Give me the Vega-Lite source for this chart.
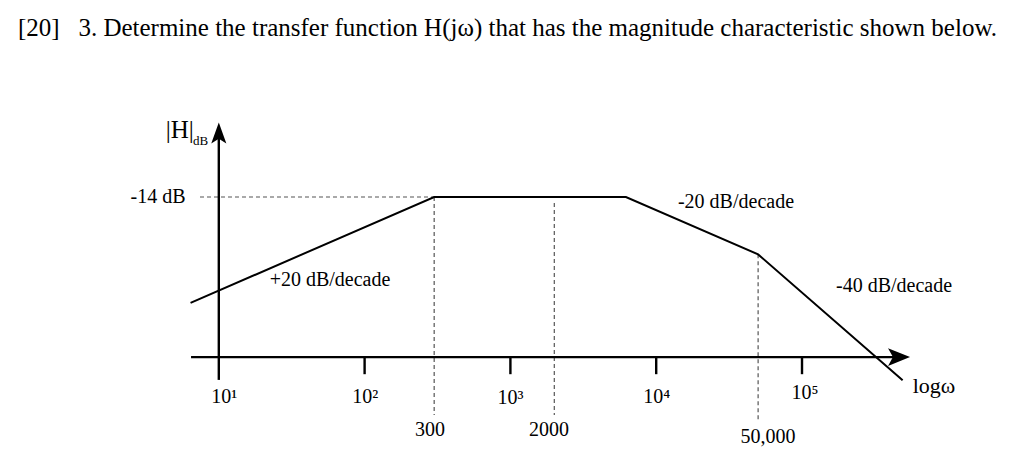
{
  "$schema": "https://vega.github.io/schema/vega-lite/v6.json",
  "width": 1024,
  "height": 407,
  "autosize": {"type": "none"},
  "padding": {"left": 0, "top": 50, "right": 0, "bottom": 0},
  "background": "white",
  "config": {"view": {"stroke": null}, "font": "Liberation Serif"},
  "title": {
    "text": "[20]\u00a0\u00a0\u00a03. Determine the transfer function H(jω) that has the magnitude characteristic shown below.",
    "anchor": "start",
    "frame": "group",
    "dx": 18,
    "offset": 9,
    "font": "Liberation Serif",
    "fontSize": 25,
    "fontWeight": "normal",
    "color": "black"
  },
  "datasets": {
    "guides": [
      {"w": 7.43, "w2": 300, "db": -14, "db2": -14},
      {"w": 300, "w2": 300, "db": -14, "db2": -82.8},
      {"w": 2000, "w2": 2000, "db": -15.9, "db2": -82.8},
      {"w": 50000, "w2": 50000, "db": -32.1, "db2": -85.0}
    ],
    "axes": [
      {"w": 6.45, "w2": 434500, "db": -64.5, "db2": -64.5},
      {"w": 10, "w2": 10, "db": 5.6, "db2": -71.7},
      {"w": 100, "w2": 100, "db": -64.5, "db2": -69.9},
      {"w": 1000, "w2": 1000, "db": -64.5, "db2": -69.9},
      {"w": 10000, "w2": 10000, "db": -64.5, "db2": -69.9},
      {"w": 100000, "w2": 100000, "db": -64.5, "db2": -69.9}
    ],
    "curve": [
      {"w": 6.4, "db": -47.4},
      {"w": 300, "db": -14},
      {"w": 6200, "db": -14},
      {"w": 50000, "db": -32.1},
      {"w": 490000, "db": -71.8}
    ],
    "arrows": [
      {"w": 462800, "db": -64.5, "dir": "right"},
      {"w": 10, "db": 6.2, "dir": "up"}
    ],
    "labels": [
      {"w": 3.83, "db": -14, "text": "-14 dB"},
      {"w": 10.9, "db": -77.1, "text": "10¹"},
      {"w": 101, "db": -77.1, "text": "10²"},
      {"w": 1000, "db": -77.4, "text": "10³"},
      {"w": 10100, "db": -77.1, "text": "10⁴"},
      {"w": 105000, "db": -75.8, "text": "10⁵"},
      {"w": 281, "db": -87.5, "text": "300"},
      {"w": 1841, "db": -87.5, "text": "2000"},
      {"w": 58480, "db": -89.7, "text": "50,000"},
      {"w": 57.9, "db": -40.2, "text": "+20 dB/decade"},
      {"w": 35250, "db": -15.6, "text": "-20 dB/decade"},
      {"w": 427600, "db": -42.2, "text": "-40 dB/decade"}
    ],
    "bigLabels": [
      {"w": 5.4, "db": 7.1, "text": "|H|"}
    ],
    "subLabels": [
      {"w": 7.5, "db": 3.7, "text": "dB"}
    ],
    "axisName": [
      {"w": 804000, "db": -73.6, "text": "logω"}
    ]
  },
  "layer": [
    {
      "data": {"name": "guides"},
      "mark": {"type": "rule", "strokeDash": [4, 3], "color": "#555555", "strokeWidth": 1.2},
      "encoding": {
        "x": {"field": "w", "type": "quantitative", "scale": {"type": "log", "domain": [0.3157, 3331000], "nice": false}, "axis": null},
        "x2": {"field": "w2"},
        "y": {"field": "db", "type": "quantitative", "scale": {"domain": [-96.02, 32.37], "nice": false, "zero": false}, "axis": null},
        "y2": {"field": "db2"}
      }
    },
    {
      "data": {"name": "axes"},
      "mark": {"type": "rule", "color": "black", "strokeWidth": 2.4},
      "encoding": {
        "x": {"field": "w", "type": "quantitative", "scale": {"type": "log", "domain": [0.3157, 3331000], "nice": false}, "axis": null},
        "x2": {"field": "w2"},
        "y": {"field": "db", "type": "quantitative", "scale": {"domain": [-96.02, 32.37], "nice": false, "zero": false}, "axis": null},
        "y2": {"field": "db2"}
      }
    },
    {
      "data": {"name": "curve"},
      "mark": {"type": "line", "color": "black", "strokeWidth": 2},
      "encoding": {
        "x": {"field": "w", "type": "quantitative", "scale": {"type": "log", "domain": [0.3157, 3331000], "nice": false}, "axis": null},
        "y": {"field": "db", "type": "quantitative", "scale": {"domain": [-96.02, 32.37], "nice": false, "zero": false}, "axis": null}
      }
    },
    {
      "data": {"name": "arrows"},
      "transform": [{"filter": "datum.dir === 'right'"}],
      "mark": {"type": "point", "filled": true, "color": "black", "opacity": 1, "size": 484, "shape": "M1,0L-1,0.8L-0.55,0L-1,-0.8Z"},
      "encoding": {
        "x": {"field": "w", "type": "quantitative", "scale": {"type": "log", "domain": [0.3157, 3331000], "nice": false}, "axis": null},
        "y": {"field": "db", "type": "quantitative", "scale": {"domain": [-96.02, 32.37], "nice": false, "zero": false}, "axis": null}
      }
    },
    {
      "data": {"name": "arrows"},
      "transform": [{"filter": "datum.dir === 'up'"}],
      "mark": {"type": "point", "filled": true, "color": "black", "opacity": 1, "size": 441, "shape": "M0,-1L0.72,1L0,0.55L-0.72,1Z"},
      "encoding": {
        "x": {"field": "w", "type": "quantitative", "scale": {"type": "log", "domain": [0.3157, 3331000], "nice": false}, "axis": null},
        "y": {"field": "db", "type": "quantitative", "scale": {"domain": [-96.02, 32.37], "nice": false, "zero": false}, "axis": null}
      }
    },
    {
      "data": {"name": "labels"},
      "mark": {"type": "text", "font": "Liberation Serif", "fontSize": 20, "color": "black", "align": "center", "baseline": "middle"},
      "encoding": {
        "x": {"field": "w", "type": "quantitative", "scale": {"type": "log", "domain": [0.3157, 3331000], "nice": false}, "axis": null},
        "y": {"field": "db", "type": "quantitative", "scale": {"domain": [-96.02, 32.37], "nice": false, "zero": false}, "axis": null},
        "text": {"field": "text"}
      }
    },
    {
      "data": {"name": "bigLabels"},
      "mark": {"type": "text", "font": "Liberation Serif", "fontSize": 25, "color": "black", "align": "center", "baseline": "middle"},
      "encoding": {
        "x": {"field": "w", "type": "quantitative", "scale": {"type": "log", "domain": [0.3157, 3331000], "nice": false}, "axis": null},
        "y": {"field": "db", "type": "quantitative", "scale": {"domain": [-96.02, 32.37], "nice": false, "zero": false}, "axis": null},
        "text": {"field": "text"}
      }
    },
    {
      "data": {"name": "subLabels"},
      "mark": {"type": "text", "font": "Liberation Serif", "fontSize": 13, "color": "black", "align": "center", "baseline": "middle"},
      "encoding": {
        "x": {"field": "w", "type": "quantitative", "scale": {"type": "log", "domain": [0.3157, 3331000], "nice": false}, "axis": null},
        "y": {"field": "db", "type": "quantitative", "scale": {"domain": [-96.02, 32.37], "nice": false, "zero": false}, "axis": null},
        "text": {"field": "text"}
      }
    },
    {
      "data": {"name": "axisName"},
      "mark": {"type": "text", "font": "Liberation Serif", "fontSize": 22, "color": "black", "align": "center", "baseline": "middle"},
      "encoding": {
        "x": {"field": "w", "type": "quantitative", "scale": {"type": "log", "domain": [0.3157, 3331000], "nice": false}, "axis": null},
        "y": {"field": "db", "type": "quantitative", "scale": {"domain": [-96.02, 32.37], "nice": false, "zero": false}, "axis": null},
        "text": {"field": "text"}
      }
    }
  ]
}
